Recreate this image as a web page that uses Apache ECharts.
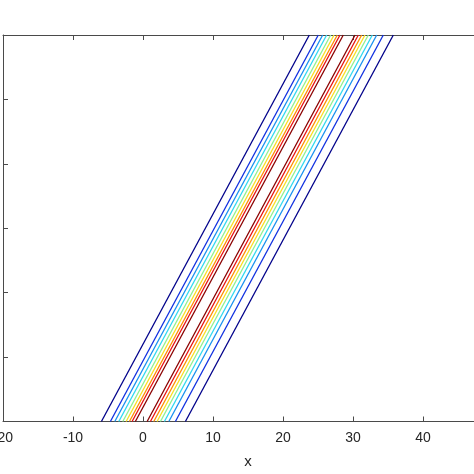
<!DOCTYPE html>
<html>
<head>
<meta charset="utf-8">
<script src="https://cdn.jsdelivr.net/npm/echarts@6/dist/echarts.min.js"></script>
<style>
html,body{margin:0;padding:0;background:#fff;}
#chart{width:474px;height:474px;}
</style>
</head>
<body>
<div id="chart"></div>
<script>
// Contour levels (outer -> inner)
const levels = [0.1, 0.2, 0.3, 0.4, 0.5, 0.6, 0.7, 0.8, 0.9];
const levelColors = ['#00008a', '#1030e0', '#1890f0', '#30d8f0', '#90f090', '#f8e020', '#ff8c00', '#e81010', '#8a0000'];
// y range (t) of the plot
const tMin = 0;
const tMax = 6;
// x positions where each contour line meets the bottom (t = tMin) and top (t = tMax)
const leftBottomX  = [-5.94, -4.66, -4.03, -3.46, -2.89, -2.41, -1.94, -1.56, -1.09];
const leftTopX     = [23.76, 25.04, 25.67, 26.24, 26.81, 27.29, 27.76, 28.14, 28.61];
const rightBottomX = [6.06, 4.63, 3.69, 3.06, 2.49, 2.01, 1.54, 1.06, 0.59];
const rightTopX    = [35.76, 34.33, 33.39, 32.76, 32.19, 31.71, 31.24, 30.76, 30.29];
// axis ticks
const xTicks = [-20, -10, 0, 10, 20, 30, 40, 50];

const series = [];
levels.forEach((lv, i) => {
  [[leftBottomX[i], leftTopX[i]], [rightBottomX[i], rightTopX[i]]].forEach(pair => {
    series.push({
      type: 'line',
      name: String(lv),
      data: [[pair[0], tMin], [pair[1], tMax]],
      showSymbol: false,
      symbol: 'none',
      clip: true,
      lineStyle: { color: levelColors[i], width: 1.3 },
      silent: true
    });
  });
});

const axisCol = '#4a4a4a';
const baseX = {
  type: 'value',
  min: xTicks[0],
  max: xTicks[xTicks.length - 1],
  interval: 10,
  splitLine: { show: false },
  axisLine: { show: true, onZero: false, lineStyle: { color: axisCol, width: 1 } },
  axisTick: { show: true, inside: true, length: 5, lineStyle: { color: axisCol } }
};
const baseY = {
  type: 'value',
  min: tMin,
  max: tMax,
  interval: 1,
  splitLine: { show: false },
  axisLine: { show: true, onZero: false, lineStyle: { color: axisCol, width: 1 } },
  axisTick: { show: true, inside: true, length: 5, lineStyle: { color: axisCol } },
  axisLabel: { show: false }
};

const chart = echarts.init(document.getElementById('chart'));
chart.setOption({
  animation: false,
  backgroundColor: '#ffffff',
  grid: { left: 3, top: 35, right: -19, bottom: 52.5, containLabel: false, outerBoundsMode: 'none' },
  xAxis: [
    Object.assign({}, baseX, {
      position: 'bottom',
      name: 'x',
      nameLocation: 'middle',
      nameGap: 33,
      nameTextStyle: { color: '#262626', fontSize: 15, fontFamily: 'Liberation Sans, Arial, sans-serif' },
      axisLabel: { show: true, color: '#262626', fontSize: 14, margin: 10, fontFamily: 'Liberation Sans, Arial, sans-serif' }
    }),
    Object.assign({}, baseX, { position: 'top', axisLabel: { show: false } })
  ],
  yAxis: [
    Object.assign({}, baseY, { position: 'left' }),
    Object.assign({}, baseY, { position: 'right' })
  ],
  series: series
});
</script>
</body>
</html>
